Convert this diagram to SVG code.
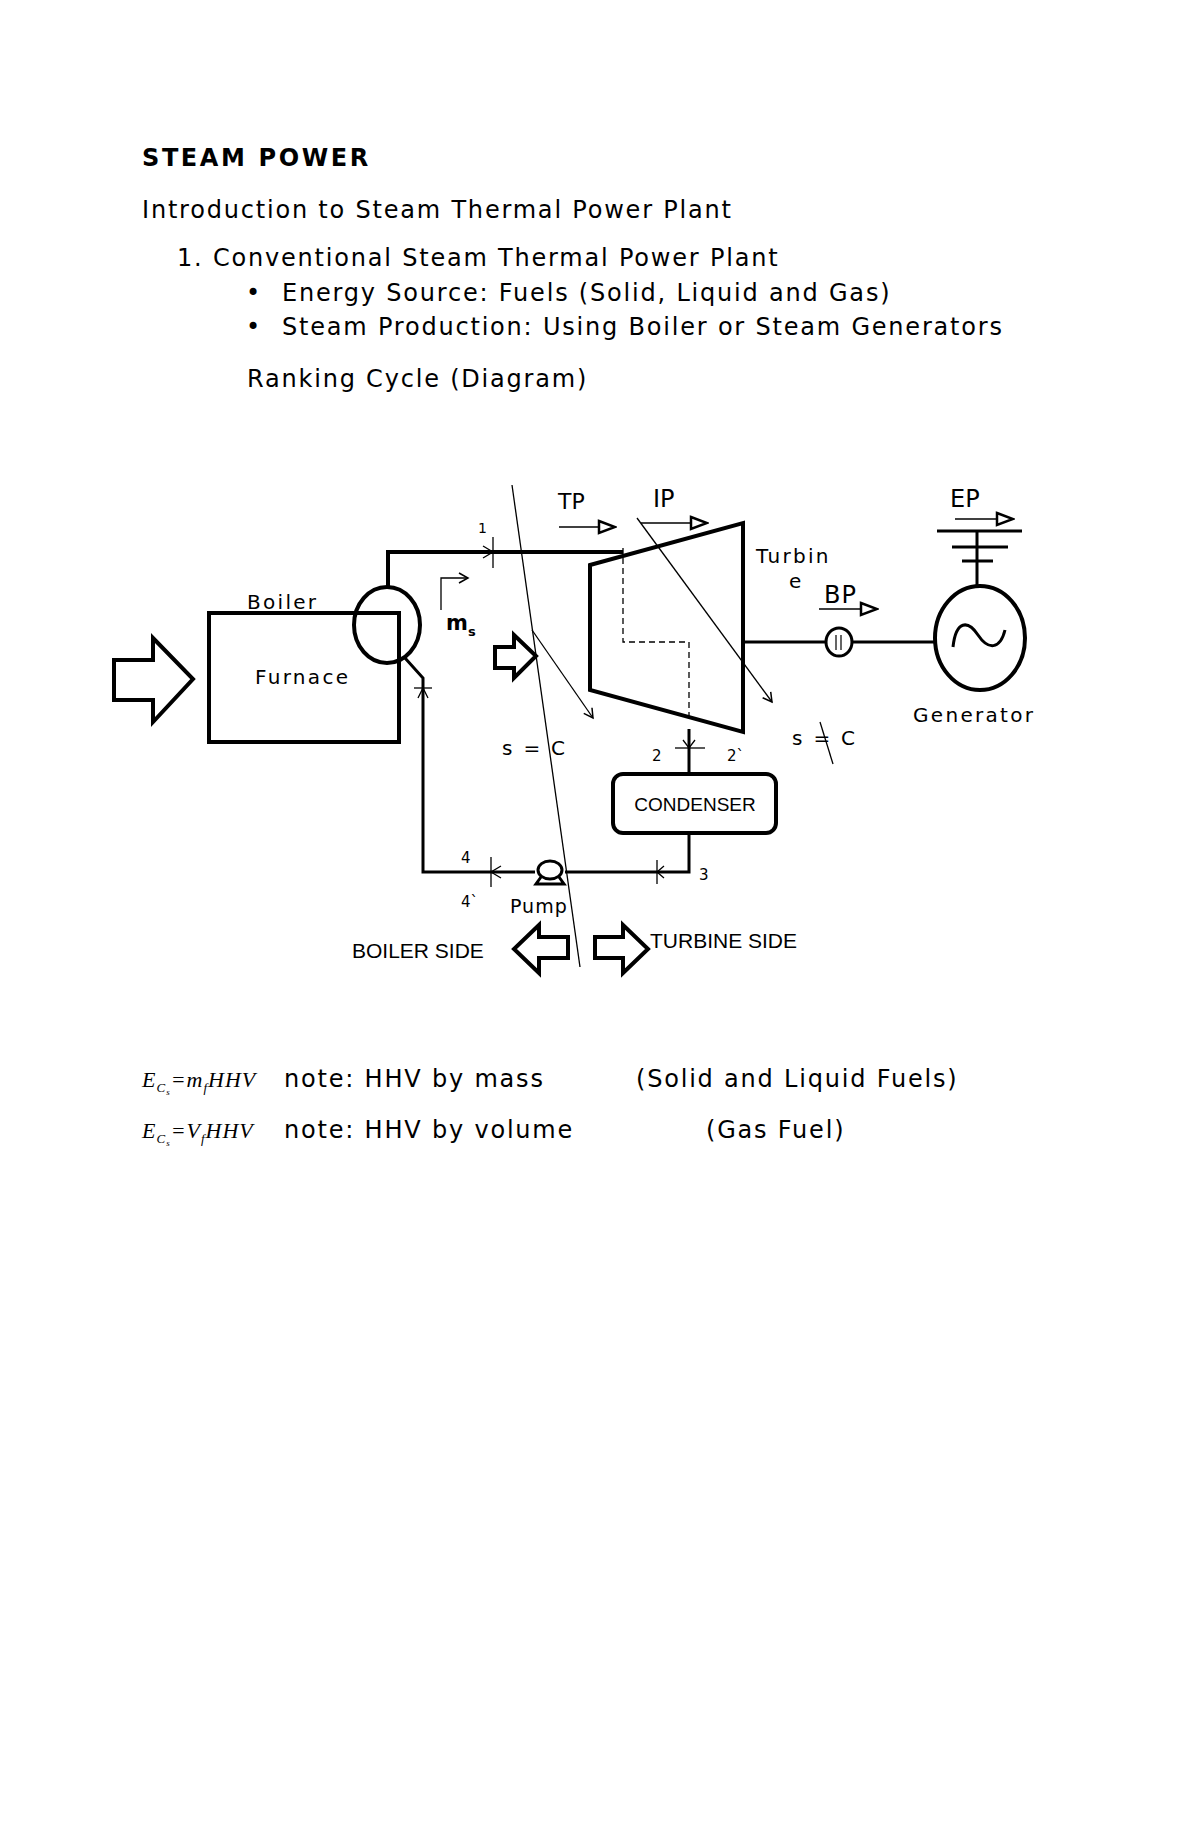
<svg xmlns="http://www.w3.org/2000/svg" width="1200" height="1835" viewBox="0 0 1200 1835">
<defs>
<style>
.t{font-family:"DejaVu Sans",sans-serif;fill:#000;letter-spacing:1.8px}
.d{font-family:"DejaVu Sans",sans-serif;fill:#000;letter-spacing:2.3px}
.n{font-family:"DejaVu Sans",sans-serif;fill:#000}
.l{font-family:"Liberation Sans",Arial,sans-serif;fill:#000}
.th{fill:none;stroke:#000;stroke-width:4}
.md{fill:none;stroke:#000;stroke-width:3}
.tn{fill:none;stroke:#000;stroke-width:1.3}
.hol{fill:#fff;stroke:#000;stroke-width:4;stroke-linejoin:miter}
</style>
<marker id="oa" markerWidth="12" markerHeight="12" refX="10" refY="6" orient="auto" markerUnits="userSpaceOnUse"><path d="M1,1 L10,6 L1,11" fill="none" stroke="#000" stroke-width="1.5"/></marker>
<marker id="tri" markerWidth="20" markerHeight="16" refX="2" refY="8" orient="auto" markerUnits="userSpaceOnUse"><path d="M2,2 L18,8 L2,14 Z" fill="#fff" stroke="#000" stroke-width="2.5"/></marker>
</defs>
<rect width="1200" height="1835" fill="#fff"/>
<g id="header">
<text class="t" x="142" y="166" font-size="24" font-weight="bold" style="letter-spacing:2.6px">STEAM POWER</text>
<text class="t" x="142" y="218" font-size="24">Introduction to Steam Thermal Power Plant</text>
<text class="t" x="177" y="266" font-size="24">1. Conventional Steam Thermal Power Plant</text>
<text class="n" x="246" y="301" font-size="24">•</text>
<text class="t" x="282" y="301" font-size="24">Energy Source: Fuels (Solid, Liquid and Gas)</text>
<text class="n" x="246" y="335" font-size="24">•</text>
<text class="t" x="282" y="335" font-size="24">Steam Production: Using Boiler or Steam Generators</text>
<text class="t" x="247" y="387" font-size="24">Ranking Cycle (Diagram)</text>
</g>
<g id="connectors">
<path class="th" d="M388,587 V552 H623"/>
<path class="md" d="M405,658 L423,678 V872 H535 M565,872 H689 V833"/>
<path class="md" d="M689,729 V773"/>
<path class="md" d="M743,642 H825 M853,642 H935"/>
<line class="tn" x1="512" y1="485" x2="580" y2="967"/>
<line class="tn" x1="532" y1="630" x2="593" y2="718" marker-end="url(#oa)"/>
<line class="tn" x1="637" y1="518" x2="772" y2="702" marker-end="url(#oa)"/>
<path class="tn" d="M441,610 V578 H468" marker-end="url(#oa)"/>
<line class="tn" x1="820" y1="722" x2="833" y2="764"/>
<g class="tn">
<line x1="493" y1="537" x2="493" y2="568"/><path d="M483,546 L493,552 L483,558"/>
<line x1="414" y1="688" x2="432" y2="688"/><path d="M418,698 L423,688 L428,698"/>
<line x1="491" y1="857" x2="491" y2="887"/><path d="M501,866 L491,872 L501,878"/>
<line x1="657" y1="860" x2="657" y2="884"/><path d="M664,866 L657,872 L664,878"/>
<line x1="675" y1="748" x2="705" y2="748"/><path d="M683,740 L689,748 L695,740"/>
</g>
<line class="tn" x1="559" y1="527" x2="599" y2="527" stroke-width="2.5" marker-end="url(#tri)"/>
<line class="tn" x1="641" y1="523" x2="691" y2="523" stroke-width="2.5" marker-end="url(#tri)"/>
<line class="tn" x1="955" y1="519" x2="997" y2="519" stroke-width="2.5" marker-end="url(#tri)"/>
<line class="tn" x1="819" y1="609" x2="861" y2="609" stroke-width="2.5" marker-end="url(#tri)"/>
</g>
<g id="input-arrow"><path class="hol" d="M114,660 H153 V638 L193,679 L153,722 V700 H114 Z"/></g>
<g id="boiler">
<rect class="th" x="209" y="613" width="190" height="129"/>
<text class="d" x="247" y="609" font-size="20">Boiler</text>
<text class="d" x="255" y="684" font-size="20">Furnace</text>
</g>
<g id="drum"><ellipse class="th" cx="387" cy="625" rx="33" ry="38" fill="#fff"/></g>
<g id="labels">
<text class="n" x="478" y="533" font-size="14">1</text>
<text class="n" x="446" y="630" font-size="21" font-weight="bold">m</text>
<text class="n" x="468" y="636" font-size="13" font-weight="bold">s</text>
<text class="d" x="502" y="755" font-size="20">s = C</text>
<text class="n" x="461" y="863" font-size="15">4</text>
<text class="n" x="461" y="907" font-size="15">4`</text>
<text class="n" x="652" y="761" font-size="15">2</text>
<text class="n" x="727" y="761" font-size="15">2`</text>
<text class="n" x="699" y="880" font-size="15">3</text>
<text class="d" x="792" y="745" font-size="20">s = C</text>
<text class="n" x="558" y="509" font-size="22">TP</text>
<text class="n" x="653" y="507" font-size="24">IP</text>
<text class="n" x="950" y="507" font-size="24">EP</text>
<text class="n" x="824" y="603" font-size="24" style="letter-spacing:1px">BP</text>
<text class="d" x="756" y="563" font-size="20">Turbin</text>
<text class="d" x="789" y="588" font-size="20">e</text>
</g>
<g id="small-arrow"><path class="hol" d="M495,647 H514 V635 L536,656 L514,678 V668 H495 Z" stroke-width="3.5"/></g>
<g id="turbine">
<path class="th" d="M590,565 L743,523 V732 L590,690 Z" stroke-width="5"/>
<path d="M623,548 V642 H689 V717" fill="none" stroke="#000" stroke-width="1.3" stroke-dasharray="6,4"/>
</g>
<g id="condenser">
<rect class="th" x="613" y="774" width="163" height="59" rx="10"/>
<text class="l" x="695" y="811" font-size="19" text-anchor="middle">CONDENSER</text>
</g>
<g id="pump">
<ellipse cx="550" cy="870" rx="12" ry="9" fill="#fff" stroke="#000" stroke-width="3"/>
<path d="M541,877 L536,884 H564 L559,877" fill="none" stroke="#000" stroke-width="3"/>
<text class="n" x="510" y="913" font-size="19" style="letter-spacing:1px">Pump</text>
</g>
<g id="coupling">
<ellipse cx="839" cy="642" rx="13" ry="14" fill="#fff" stroke="#000" stroke-width="3"/>
<path d="M836,635 V650 M841,635 V650" stroke="#000" stroke-width="1.2"/>
</g>
<g id="generator">
<ellipse class="th" cx="980" cy="638" rx="45" ry="52" fill="#fff"/>
<path d="M953,647 C956,620 968,620 978,635 C988,650 1000,650 1005,630" fill="none" stroke="#000" stroke-width="3"/>
<path class="md" d="M977,532 V587 M937,531 H1022 M952,547 H1008 M962,561 H993"/>
<text class="d" x="913" y="722" font-size="20">Generator</text>
</g>
<g id="sides">
<path class="hol" d="M568,937 H539 V925 L514,949 L539,973 V958 H568 Z"/>
<text class="l" x="352" y="958" font-size="21">BOILER SIDE</text>
<path class="hol" d="M595,937 H623 V925 L648,949 L623,973 V958 H595 Z"/>
<text class="l" x="650" y="948" font-size="21">TURBINE SIDE</text>
</g>
<g id="equations">
<text x="142" y="1087" font-family="Liberation Serif,serif" font-style="italic" font-size="22" style="letter-spacing:1px">E<tspan font-size="13" dy="5">C</tspan><tspan font-size="9" dy="3">s</tspan><tspan dy="-8">=m</tspan><tspan font-size="13" dy="5">f</tspan><tspan dy="-5">HHV</tspan></text>
<text class="t" x="284" y="1087" font-size="24">note: HHV by mass</text>
<text class="t" x="636" y="1087" font-size="24">(Solid and Liquid Fuels)</text>
<text x="142" y="1138" font-family="Liberation Serif,serif" font-style="italic" font-size="22" style="letter-spacing:1px">E<tspan font-size="13" dy="5">C</tspan><tspan font-size="9" dy="3">s</tspan><tspan dy="-8">=V</tspan><tspan font-size="13" dy="5">f</tspan><tspan dy="-5">HHV</tspan></text>
<text class="t" x="284" y="1138" font-size="24">note: HHV by volume</text>
<text class="t" x="706" y="1138" font-size="24">(Gas Fuel)</text>
</g>
</svg>
